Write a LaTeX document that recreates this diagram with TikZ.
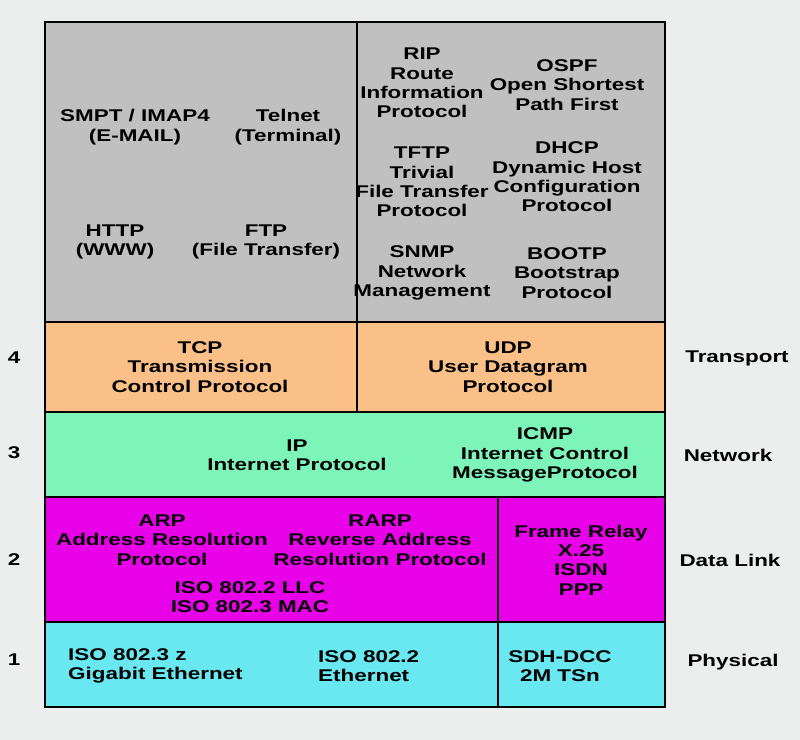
\documentclass[tikz,border=0pt]{standalone}
\usepackage{fontspec}
\setmainfont{Liberation Sans}[FakeStretch=1.32]
\definecolor{bgcol}{RGB}{236,238,238}
\definecolor{appcol}{RGB}{192,192,192}
\definecolor{tracol}{RGB}{250,192,135}
\definecolor{netcol}{RGB}{125,245,185}
\definecolor{linkcol}{RGB}{232,0,232}
\definecolor{phycol}{RGB}{105,232,242}
\tikzset{
  layer/.style={draw=black, line width=1pt},
  txt/.style={font=\bfseries\fontsize{14.5}{16.5}\selectfont, align=center, inner sep=0pt},
  lbl/.style={font=\bfseries\fontsize{14.5}{16.5}\selectfont, inner sep=0pt}
}
\begin{document}
\begin{tikzpicture}[x=0.03cm, y=-0.03cm]
  \fill[bgcol] (0,0) rectangle (800,740);
  % layer boxes
  \fill[appcol] (45,22) rectangle (665,322);
  \fill[tracol] (45,322) rectangle (665,412);
  \fill[netcol] (45,412) rectangle (665,497);
  \fill[linkcol] (45,497) rectangle (665,622);
  \fill[phycol] (45,622) rectangle (665,707);
  \draw[layer] (45,22) rectangle (665,707);
  \foreach \y in {322,412,497,622} {
    \draw[layer] (45,\y) -- (665,\y);
  }
  \draw[layer] (357,22) -- (357,412);
  \draw[layer] (498,497) -- (498,707);
  % application
  \node[txt] (smtp) at (135,127) {SMPT / IMAP4\\(E-MAIL)};
  \node[txt] (telnet) at (288,127) {Telnet\\(Terminal)};
  \node[txt] (http) at (115,242) {HTTP\\(WWW)};
  \node[txt] (ftp) at (266,242) {FTP\\(File Transfer)};
  \node[txt] (rip) at (422,83) {RIP\\Route\\Information\\Protocol};
  \node[txt] (ospf) at (567,85) {OSPF\\Open Shortest\\Path First};
  \node[txt] (tftp) at (422,182) {TFTP\\Trivial\\File Transfer\\Protocol};
  \node[txt] (dhcp) at (567,177) {DHCP\\Dynamic Host\\Configuration\\Protocol};
  \node[txt] (snmp) at (422,273) {SNMP\\Network\\Management};
  \node[txt] (bootp) at (567,273) {BOOTP\\Bootstrap\\Protocol};
  % transport
  \node[txt] (tcp) at (200,367) {TCP\\Transmission\\Control Protocol};
  \node[txt] (udp) at (508,367) {UDP\\User Datagram\\Protocol};
  % network
  \node[txt] (ip) at (297,455) {IP\\Internet Protocol};
  \node[txt] (icmp) at (545,455) {ICMP\\Internet Control\\MessageProtocol};
  % data link
  \node[txt] (arp) at (162,540) {ARP\\Address Resolution\\Protocol};
  \node[txt] (rarp) at (380,540) {RARP\\Reverse Address\\Resolution Protocol};
  \node[txt] (llc) at (250,597) {ISO 802.2 LLC\\ISO 802.3 MAC};
  \node[txt] (frame) at (581,560) {Frame Relay\\X.25\\ISDN\\PPP};
  % physical
  \node[txt, align=left, anchor=west] (giga) at (68,666) {ISO 802.3 z\\Gigabit Ethernet};
  \node[txt, align=left, anchor=west] (eth) at (318,666) {ISO 802.2\\Ethernet};
  \node[txt] (sdh) at (560,666) {SDH-DCC\\2M TSn};
  % layer numbers and names
  \node[lbl] (n4) at (14,358) {4};
  \node[lbl] (n3) at (14,453) {3};
  \node[lbl] (n2) at (14,560) {2};
  \node[lbl] (n1) at (14,660) {1};
  \node[lbl] (transport) at (737,358) {Transport};
  \node[lbl] (network) at (728,455) {Network};
  \node[lbl] (datalink) at (730,560) {Data Link};
  \node[lbl] (physical) at (733,662) {Physical};
\end{tikzpicture}
\end{document}
